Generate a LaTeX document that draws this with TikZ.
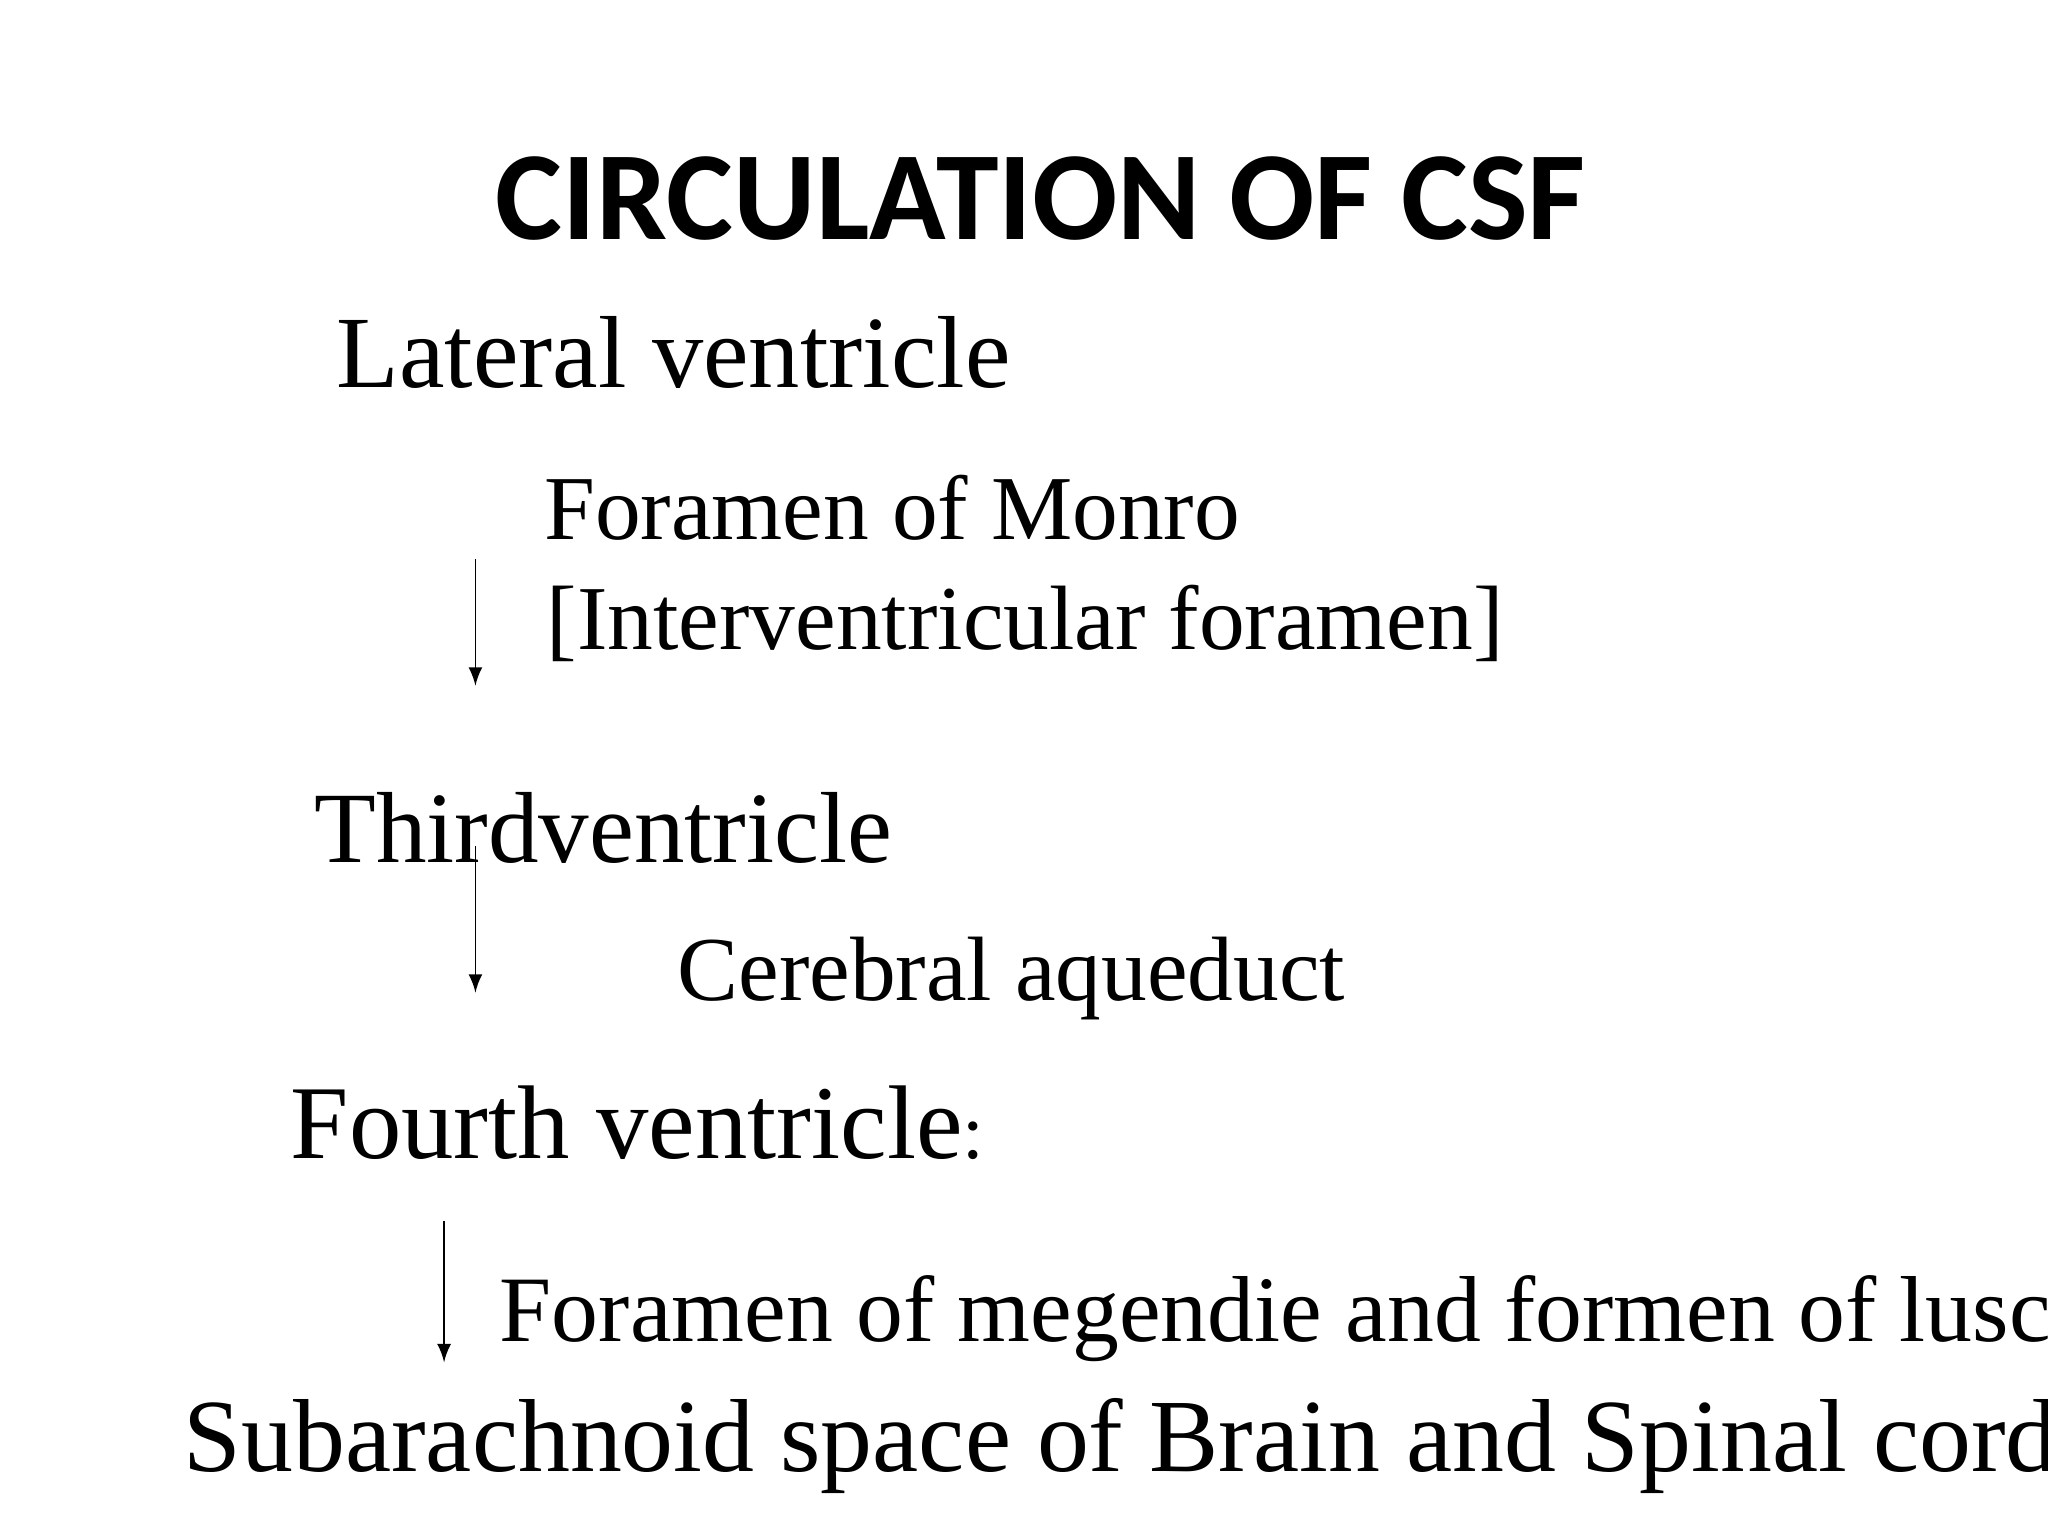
\documentclass[tikz,border=0pt]{standalone}
\usepackage{fontspec}
\setmainfont{Liberation Serif}
\newfontfamily\titlefont{Carlito}
\tikzset{>=latex}
\tikzset{
  step label/.style = {anchor=base west, inner sep=0pt},
  flow/.style = {->, thin, shorten >=0pt}
}
\begin{document}
\begin{tikzpicture}[x=0.01cm,y=-0.01cm]
  \clip (0,0) rectangle (1568,1176);
  \useasboundingbox (0,0) rectangle (1568,1176);
  \node[anchor=base, inner sep=0pt] (title) at (797,183)
    {\titlefont\fontsize{27.5}{30}\selectfont\bfseries CIRCULATION OF CSF};
  \node[step label] (lateral) at (257,297) {\fontsize{22.3}{26}\selectfont Lateral ventricle};
  \node[step label] (monro) at (416,413) {\fontsize{19.9}{24}\selectfont Foramen of Monro};
  \node[step label] (inter) at (418,497) {\fontsize{19.9}{24}\selectfont [Interventricular foramen]};
  \node[step label] (third) at (240,660) {\fontsize{22}{26}\selectfont Thirdventricle};
  \node[step label] (aqueduct) at (518,766) {\fontsize{19.9}{24}\selectfont Cerebral aqueduct};
  \node[step label] (fourth) at (222,887) {\fontsize{22.8}{27}\selectfont Fourth ventricle\fontsize{17}{24}\selectfont:};
  \node[step label] (luschka) at (382,1027) {\fontsize{20.4}{25}\selectfont Foramen of megendie and formen of luschka};
  \node[step label] (subarach) at (140,1127) {\fontsize{22.6}{27}\selectfont Subarachnoid space of Brain and Spinal cord};
  % arrows
  \coordinate (a1) at (364,428); \coordinate (b1) at (364,525);
  \coordinate (a2) at (364,648); \coordinate (b2) at (364,760);
  \coordinate (a3) at (340,935); \coordinate (b3) at (340,1043);
  \draw[flow] (a1) -- (b1);
  \draw[flow] (a2) -- (b2);
  \draw[flow] (a3) -- (b3);
\end{tikzpicture}
\end{document}
